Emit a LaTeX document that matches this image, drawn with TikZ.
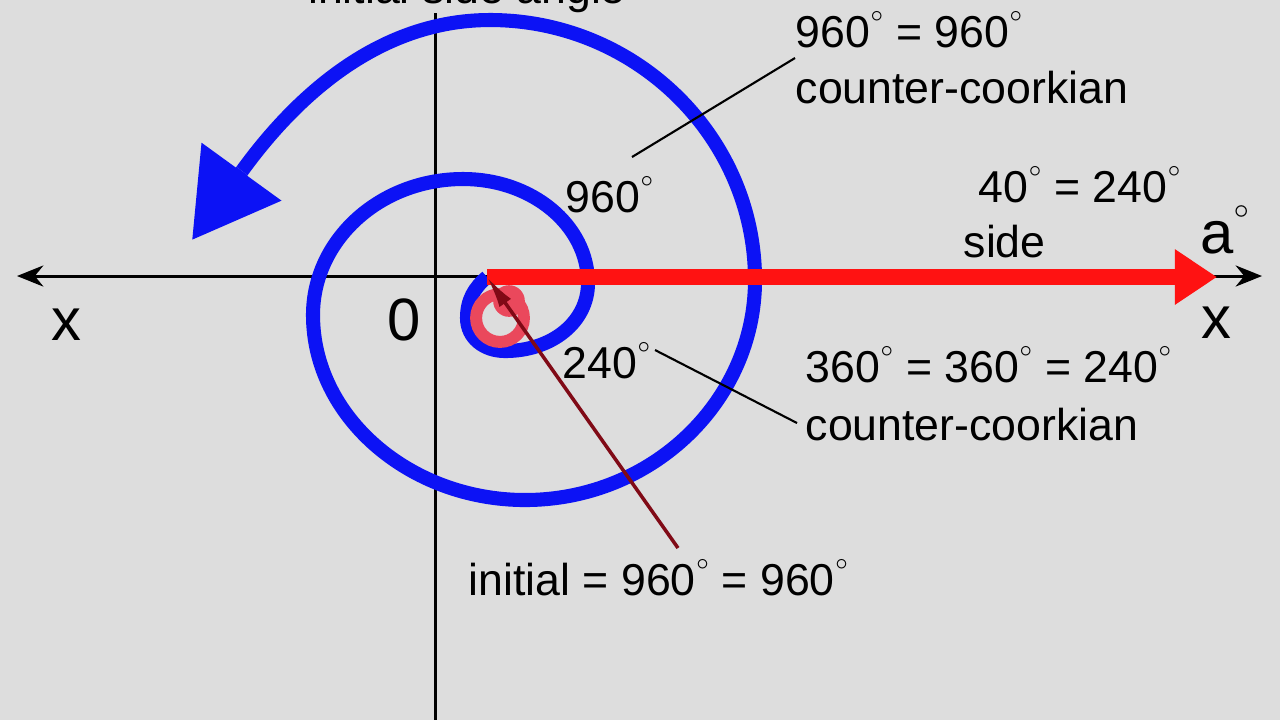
\documentclass[tikz,border=0pt]{standalone}
\usepackage{fontspec}
\setmainfont{Liberation Sans}
\usetikzlibrary{arrows.meta}
\definecolor{bggray}{RGB}{221,221,221}
\definecolor{spiralblue}{RGB}{12,18,245}
\definecolor{rayred}{RGB}{255,18,18}
\definecolor{blobpink}{RGB}{234,72,92}
\definecolor{initred}{RGB}{128,10,22}
\newcommand{\dgr}{\raisebox{0.57em}{$\scriptscriptstyle\circ$}}
\tikzset{
  lbl/.style={anchor=base west,inner sep=0pt,font=\fontsize{12.7}{15}\selectfont},
  axlbl/.style={anchor=base,inner sep=0pt,font=\fontsize{17}{20}\selectfont},
  axis/.style={black,line width=0.85pt},
  leader/.style={black,line width=0.6pt},
  spiral/.style={spiralblue,line width=4pt},
}
\begin{document}
\begin{tikzpicture}[x=0.01cm,y=-0.01cm]
    \fill[bggray] (0,0) rectangle (1280,720);
    \clip (0,0) rectangle (1280,720);
    % axes
    \draw[axis] (435,13) -- (435,720);
    \draw[axis,{Stealth[length=7.5pt,width=6pt]}-{Stealth[length=7.5pt,width=6pt]}] (17,276) -- (1262,276);
    \node[axlbl] (xleft) at (66,340) {x};
    \node[axlbl] (xright) at (1216,338) {x};
    \node[axlbl] (zero) at (404,340) {0};
    \node[axlbl,anchor=base west] (alab) at (1200,253) {a\dgr};
    \node[lbl,anchor=base] (title) at (467,3) {initial side angle};
    % spiral
    \coordinate (o) at (487,277);
    \draw[spiral] (o) .. controls (474,288) and (467,300) .. (467,318)
        .. controls (467,338) and (484,351) .. (505,351)
        .. controls (552,351) and (588,322) .. (588,283)
        .. controls (588,225) and (532,179) .. (463,179)
        .. controls (380,179) and (313,240) .. (313,315)
        .. controls (313,417) and (410,500) .. (525,500)
        .. controls (652,500) and (755,401) .. (755,280)
        .. controls (755,137) and (636,20) .. (490,20)
        .. controls (375,20) and (292,102) .. (242,171);
    \draw[spiral,-{Triangle[length=24pt,width=27pt]}] (242,171) -- (192,240);
    \draw[blobpink,line width=3.4pt] (500,318) circle[radius=6.8pt];
    \fill[blobpink] (509,301) circle[radius=4.5pt];
    % terminal ray
    \draw[rayred,line width=4.3pt,-{Triangle[length=12pt,width=15pt]}] (o) -- (1217,277);
    % labels
    \node[lbl] (mid960) at (565,212) {960\dgr};
    \node[lbl] (top960) at (795,47) {960\dgr{} = 960\dgr};
    \node[lbl] (topcc) at (795,103) {counter-coorkian};
    \node[lbl] (side40) at (978,202) {40\dgr{} = 240\dgr};
    \node[lbl] (side) at (963,257) {side};
    \node[lbl] (mid240) at (562,378) {240\dgr};
    \node[lbl] (low360) at (805,382) {360\dgr{} = 360\dgr{} = 240\dgr};
    \node[lbl] (lowcc) at (805,440) {counter-coorkian};
    \node[lbl] (initlbl) at (468,595) {initial = 960\dgr{} = 960\dgr};
    % leaders
    \coordinate (a960) at (632,157);
    \coordinate (b960) at (795,58);
    \draw[leader] (a960) -- (b960);
    \coordinate (a240) at (655,350);
    \coordinate (b240) at (797,423);
    \draw[leader] (a240) -- (b240);
    \coordinate (initend) at (678,548);
    \draw[initred,line width=1pt,-{Latex[length=9pt,width=4pt]}] (initend) -- (o);
\end{tikzpicture}
\end{document}
